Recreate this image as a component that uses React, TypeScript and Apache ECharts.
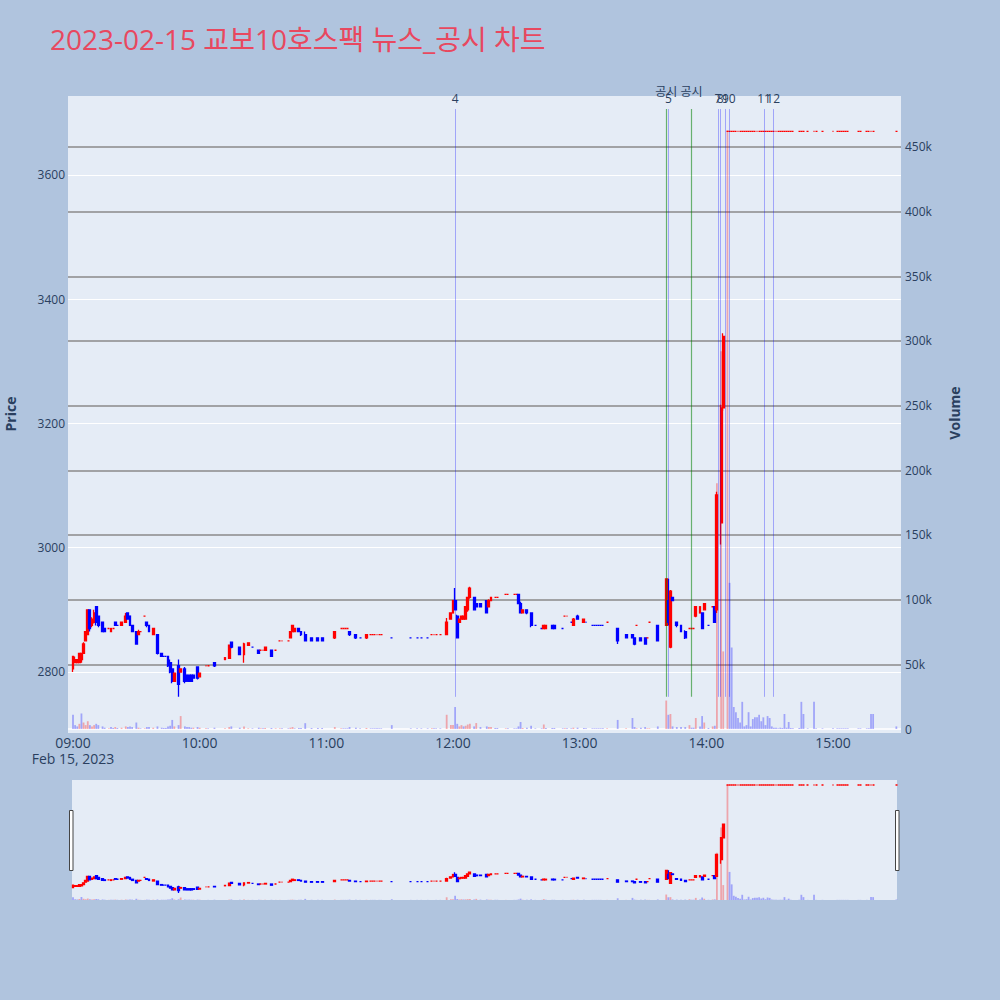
import React, { useEffect, useRef } from 'react';
import * as echarts from 'echarts';

const TITLE = '2023-02-15 교보10호스팩 뉴스_공시 차트';
const DATE_LABEL = 'Feb 15, 2023';
const FONT = '"Open Sans", "Noto Sans CJK KR", sans-serif';
const TEXT_COLOR = '#2a3f5f';
const UP = '#ff0000';
const DOWN = '#0000ff';

// [time, open, high, low, close, volume]
const ohlcv: Array<[string, number, number, number, number, number]> = [
  ['09:00', 2805, 2825, 2800, 2825, 11000],
  ['09:01', 2815, 2825, 2815, 2820, 3000],
  ['09:02', 2815, 2820, 2815, 2820, 2000],
  ['09:03', 2815, 2830, 2815, 2830, 4000],
  ['09:04', 2820, 2830, 2815, 2830, 12000],
  ['09:05', 2830, 2848, 2830, 2845, 5000],
  ['09:06', 2850, 2865, 2850, 2865, 3000],
  ['09:07', 2860, 2900, 2860, 2900, 6000],
  ['09:08', 2900, 2900, 2865, 2870, 3000],
  ['09:09', 2875, 2888, 2872, 2885, 2000],
  ['09:10', 2880, 2900, 2878, 2895, 3000],
  ['09:11', 2905, 2905, 2875, 2880, 4000],
  ['09:12', 2890, 2890, 2872, 2875, 3000],
  ['09:14', 2880, 2880, 2865, 2865, 2000],
  ['09:15', 2870, 2870, 2865, 2865, 1000],
  ['09:17', 2870, 2870, 2870, 2870, 500],
  ['09:18', 2865, 2870, 2865, 2870, 1500],
  ['09:19', 2870, 2870, 2870, 2870, 800],
  ['09:20', 2880, 2880, 2875, 2875, 1500],
  ['09:21', 2875, 2875, 2875, 2875, 800],
  ['09:23', 2875, 2880, 2875, 2880, 1000],
  ['09:25', 2880, 2895, 2880, 2890, 2000],
  ['09:26', 2895, 2895, 2885, 2885, 1500],
  ['09:27', 2890, 2890, 2875, 2875, 2000],
  ['09:28', 2875, 2875, 2865, 2865, 1500],
  ['09:30', 2865, 2865, 2845, 2845, 5000],
  ['09:31', 2860, 2868, 2860, 2865, 1000],
  ['09:32', 2865, 2865, 2865, 2865, 500],
  ['09:34', 2890, 2890, 2890, 2890, 500],
  ['09:35', 2880, 2880, 2872, 2875, 1500],
  ['09:36', 2875, 2875, 2865, 2865, 1500],
  ['09:38', 2860, 2870, 2860, 2870, 1000],
  ['09:40', 2860, 2860, 2828, 2830, 2000],
  ['09:42', 2830, 2830, 2825, 2825, 1000],
  ['09:43', 2825, 2825, 2825, 2825, 800],
  ['09:44', 2825, 2825, 2825, 2825, 800],
  ['09:45', 2825, 2825, 2808, 2810, 2000],
  ['09:46', 2815, 2820, 2798, 2800, 2500],
  ['09:47', 2805, 2805, 2782, 2785, 7000],
  ['09:48', 2785, 2798, 2785, 2798, 2000],
  ['09:50', 2810, 2820, 2760, 2780, 3000],
  ['09:51', 2800, 2805, 2800, 2805, 10000],
  ['09:53', 2805, 2808, 2782, 2785, 2000],
  ['09:54', 2795, 2795, 2785, 2785, 1500],
  ['09:55', 2795, 2795, 2785, 2785, 1500],
  ['09:56', 2795, 2795, 2785, 2785, 1000],
  ['09:57', 2795, 2795, 2790, 2790, 1000],
  ['09:59', 2808, 2808, 2788, 2790, 1500],
  ['10:00', 2792, 2798, 2792, 2798, 1000],
  ['10:03', 2810, 2810, 2810, 2810, 500],
  ['10:04', 2810, 2810, 2810, 2810, 500],
  ['10:07', 2815, 2815, 2808, 2810, 1000],
  ['10:12', 2820, 2823, 2820, 2823, 500],
  ['10:14', 2822, 2843, 2822, 2843, 1500],
  ['10:15', 2848, 2848, 2838, 2840, 2000],
  ['10:19', 2840, 2840, 2828, 2828, 1000],
  ['10:21', 2828, 2847, 2815, 2845, 2000],
  ['10:23', 2843, 2847, 2843, 2847, 500],
  ['10:25', 2840, 2840, 2840, 2840, 500],
  ['10:28', 2835, 2835, 2830, 2830, 1000],
  ['10:29', 2835, 2835, 2835, 2835, 500],
  ['10:30', 2835, 2835, 2835, 2835, 500],
  ['10:31', 2835, 2840, 2835, 2840, 800],
  ['10:34', 2835, 2835, 2825, 2825, 800],
  ['10:36', 2835, 2835, 2835, 2835, 500],
  ['10:38', 2850, 2850, 2850, 2850, 500],
  ['10:39', 2850, 2850, 2850, 2850, 500],
  ['10:42', 2850, 2850, 2850, 2850, 500],
  ['10:43', 2855, 2865, 2855, 2865, 1000],
  ['10:44', 2865, 2875, 2865, 2875, 1500],
  ['10:45', 2865, 2870, 2865, 2870, 500],
  ['10:47', 2870, 2870, 2865, 2865, 800],
  ['10:48', 2865, 2865, 2858, 2860, 800],
  ['10:50', 2860, 2865, 2850, 2850, 4500],
  ['10:53', 2855, 2855, 2850, 2850, 800],
  ['10:56', 2855, 2855, 2850, 2850, 800],
  ['10:58', 2855, 2855, 2850, 2850, 800],
  ['11:04', 2855, 2865, 2853, 2865, 1500],
  ['11:07', 2870, 2870, 2870, 2870, 500],
  ['11:08', 2870, 2870, 2870, 2870, 500],
  ['11:09', 2870, 2870, 2870, 2870, 500],
  ['11:10', 2870, 2870, 2870, 2870, 500],
  ['11:11', 2865, 2865, 2858, 2860, 1500],
  ['11:14', 2860, 2861, 2853, 2855, 1000],
  ['11:16', 2855, 2855, 2855, 2855, 500],
  ['11:19', 2855, 2860, 2853, 2860, 800],
  ['11:21', 2860, 2860, 2860, 2860, 500],
  ['11:22', 2860, 2860, 2860, 2860, 500],
  ['11:23', 2860, 2860, 2860, 2860, 500],
  ['11:24', 2860, 2860, 2860, 2860, 500],
  ['11:25', 2860, 2860, 2860, 2860, 500],
  ['11:26', 2860, 2860, 2860, 2860, 500],
  ['11:31', 2855, 2855, 2855, 2855, 3000],
  ['11:40', 2855, 2855, 2855, 2855, 500],
  ['11:43', 2855, 2855, 2855, 2855, 500],
  ['11:45', 2855, 2855, 2855, 2855, 500],
  ['11:48', 2855, 2855, 2855, 2855, 500],
  ['11:50', 2860, 2860, 2860, 2860, 500],
  ['11:51', 2860, 2860, 2860, 2860, 500],
  ['11:52', 2860, 2860, 2860, 2860, 500],
  ['11:54', 2860, 2860, 2860, 2860, 500],
  ['11:57', 2860, 2887, 2860, 2880, 11000],
  ['11:59', 2885, 2895, 2885, 2895, 3000],
  ['12:00', 2895, 2915, 2895, 2915, 3000],
  ['12:01', 2915, 2935, 2900, 2900, 17000],
  ['12:02', 2890, 2892, 2855, 2855, 4000],
  ['12:03', 2880, 2885, 2880, 2885, 2000],
  ['12:04', 2885, 2890, 2885, 2890, 3000],
  ['12:05', 2885, 2890, 2885, 2890, 2000],
  ['12:06', 2885, 2905, 2885, 2905, 2500],
  ['12:07', 2900, 2920, 2897, 2920, 3500],
  ['12:08', 2920, 2937, 2918, 2935, 4000],
  ['12:10', 2920, 2921, 2900, 2900, 2000],
  ['12:11', 2910, 2910, 2905, 2905, 4600],
  ['12:13', 2910, 2911, 2905, 2905, 1500],
  ['12:16', 2915, 2916, 2895, 2895, 2000],
  ['12:17', 2905, 2917, 2905, 2915, 1500],
  ['12:18', 2915, 2920, 2914, 2920, 1500],
  ['12:20', 2920, 2920, 2920, 2920, 800],
  ['12:21', 2920, 2920, 2920, 2920, 800],
  ['12:25', 2925, 2925, 2925, 2925, 500],
  ['12:26', 2925, 2925, 2925, 2925, 500],
  ['12:29', 2925, 2925, 2925, 2925, 500],
  ['12:30', 2925, 2925, 2925, 2925, 500],
  ['12:31', 2925, 2925, 2910, 2910, 2000],
  ['12:32', 2910, 2913, 2895, 2895, 5400],
  ['12:33', 2895, 2900, 2895, 2900, 800],
  ['12:35', 2900, 2901, 2893, 2895, 1000],
  ['12:37', 2895, 2896, 2872, 2875, 2500],
  ['12:39', 2875, 2875, 2875, 2875, 500],
  ['12:42', 2870, 2870, 2870, 2870, 500],
  ['12:43', 2870, 2876, 2869, 2875, 3500],
  ['12:44', 2870, 2875, 2870, 2875, 800],
  ['12:47', 2875, 2875, 2869, 2870, 800],
  ['12:48', 2875, 2875, 2870, 2870, 800],
  ['12:52', 2870, 2870, 2870, 2870, 500],
  ['12:53', 2890, 2890, 2890, 2890, 500],
  ['12:54', 2890, 2890, 2890, 2890, 500],
  ['12:56', 2880, 2880, 2880, 2880, 500],
  ['12:57', 2875, 2887, 2875, 2885, 1000],
  ['12:59', 2890, 2892, 2885, 2885, 1000],
  ['13:02', 2880, 2885, 2880, 2885, 800],
  ['13:03', 2880, 2880, 2880, 2880, 500],
  ['13:06', 2875, 2875, 2875, 2875, 500],
  ['13:07', 2875, 2875, 2875, 2875, 500],
  ['13:08', 2875, 2875, 2875, 2875, 500],
  ['13:09', 2875, 2875, 2875, 2875, 500],
  ['13:10', 2875, 2875, 2875, 2875, 500],
  ['13:11', 2875, 2875, 2875, 2875, 500],
  ['13:13', 2880, 2880, 2880, 2880, 500],
  ['13:18', 2870, 2870, 2845, 2850, 7000],
  ['13:22', 2860, 2860, 2855, 2855, 500],
  ['13:25', 2860, 2860, 2855, 2855, 8500],
  ['13:26', 2855, 2855, 2843, 2845, 1500],
  ['13:27', 2875, 2875, 2875, 2875, 500],
  ['13:29', 2855, 2855, 2850, 2850, 1000],
  ['13:31', 2855, 2855, 2845, 2845, 1500],
  ['13:32', 2855, 2855, 2855, 2855, 500],
  ['13:33', 2880, 2880, 2880, 2880, 500],
  ['13:37', 2875, 2876, 2850, 2850, 2000],
  ['13:41', 2875, 2950, 2875, 2950, 22000],
  ['13:42', 2915, 2950, 2875, 2880, 11000],
  ['13:43', 2840, 2932, 2838, 2930, 11600],
  ['13:44', 2920, 2920, 2915, 2915, 2000],
  ['13:46', 2880, 2880, 2872, 2875, 1500],
  ['13:48', 2875, 2875, 2864, 2865, 1500],
  ['13:50', 2865, 2867, 2853, 2855, 1500],
  ['13:52', 2870, 2870, 2870, 2870, 3000],
  ['13:53', 2870, 2870, 2870, 2870, 1000],
  ['13:54', 2870, 2870, 2870, 2870, 1000],
  ['13:55', 2890, 2906, 2888, 2905, 8500],
  ['13:57', 2895, 2905, 2895, 2905, 2000],
  ['13:58', 2895, 2896, 2869, 2870, 10000],
  ['13:59', 2900, 2911, 2900, 2910, 5000],
  ['14:01', 2875, 2875, 2875, 2875, 800],
  ['14:03', 2905, 2905, 2905, 2905, 2000],
  ['14:04', 2905, 2905, 2879, 2880, 2500],
  ['14:05', 2900, 3090, 2895, 3085, 190000],
  ['14:07', 3040, 3230, 3005, 3225, 292000],
  ['14:08', 3225, 3345, 3220, 3340, 60000],
  ['14:10', 3670, 3670, 3670, 3670, 463000],
  ['14:11', 3670, 3670, 3670, 3670, 113000],
  ['14:12', 3670, 3670, 3670, 3670, 63000],
  ['14:13', 3670, 3670, 3670, 3670, 17000],
  ['14:14', 3670, 3670, 3670, 3670, 13000],
  ['14:15', 3670, 3670, 3670, 3670, 8500],
  ['14:16', 3670, 3670, 3670, 3670, 5000],
  ['14:17', 3670, 3670, 3670, 3670, 21000],
  ['14:18', 3670, 3670, 3670, 3670, 2000],
  ['14:19', 3670, 3670, 3670, 3670, 3000],
  ['14:20', 3670, 3670, 3670, 3670, 13000],
  ['14:21', 3670, 3670, 3670, 3670, 2000],
  ['14:22', 3670, 3670, 3670, 3670, 7700],
  ['14:23', 3670, 3670, 3670, 3670, 9000],
  ['14:24', 3670, 3670, 3670, 3670, 9000],
  ['14:25', 3670, 3670, 3670, 3670, 11000],
  ['14:26', 3670, 3670, 3670, 3670, 6000],
  ['14:27', 3670, 3670, 3670, 3670, 9000],
  ['14:28', 3670, 3670, 3670, 3670, 3000],
  ['14:29', 3670, 3670, 3670, 3670, 10000],
  ['14:30', 3670, 3670, 3670, 3670, 8500],
  ['14:31', 3670, 3670, 3670, 3670, 2000],
  ['14:32', 3670, 3670, 3670, 3670, 1000],
  ['14:33', 3670, 3670, 3670, 3670, 1000],
  ['14:34', 3670, 3670, 3670, 3670, 500],
  ['14:35', 3670, 3670, 3670, 3670, 1000],
  ['14:36', 3670, 3670, 3670, 3670, 800],
  ['14:37', 3670, 3670, 3670, 3670, 11600],
  ['14:38', 3670, 3670, 3670, 3670, 1000],
  ['14:39', 3670, 3670, 3670, 3670, 5400],
  ['14:40', 3670, 3670, 3670, 3670, 800],
  ['14:41', 3670, 3670, 3670, 3670, 500],
  ['14:44', 3670, 3670, 3670, 3670, 800],
  ['14:45', 3670, 3670, 3670, 3670, 21000],
  ['14:46', 3670, 3670, 3670, 3670, 11600],
  ['14:48', 3670, 3670, 3670, 3670, 500],
  ['14:51', 3670, 3670, 3670, 3670, 21000],
  ['14:52', 3670, 3670, 3670, 3670, 500],
  ['14:55', 3670, 3670, 3670, 3670, 500],
  ['15:00', 3670, 3670, 3670, 3670, 500],
  ['15:02', 3670, 3670, 3670, 3670, 500],
  ['15:03', 3670, 3670, 3670, 3670, 500],
  ['15:04', 3670, 3670, 3670, 3670, 500],
  ['15:05', 3670, 3670, 3670, 3670, 500],
  ['15:06', 3670, 3670, 3670, 3670, 500],
  ['15:07', 3670, 3670, 3670, 3670, 500],
  ['15:12', 3670, 3670, 3670, 3670, 500],
  ['15:13', 3670, 3670, 3670, 3670, 500],
  ['15:16', 3670, 3670, 3670, 3670, 500],
  ['15:17', 3670, 3670, 3670, 3670, 500],
  ['15:18', 3670, 3670, 3670, 3670, 11600],
  ['15:19', 3670, 3670, 3670, 3670, 11600],
  ['15:30', 3670, 3670, 3670, 3670, 2000],
];

const newsEvents: Array<{ label: string; time: string }> = [
  { label: '4', time: '12:01' },
  { label: '5', time: '13:42' },
  { label: '7', time: '14:05:30' },
  { label: '8', time: '14:06:30' },
  { label: '9', time: '14:09' },
  { label: '10', time: '14:10:40' },
  { label: '11', time: '14:27:20' },
  { label: '12', time: '14:31:40' },
];
const disclosureEvents: Array<{ label: string; time: string }> = [
  { label: '공시', time: '13:41' },
  { label: '공시', time: '13:53' },
];
const eventLineRange = [2760, 3706];

const timeTicks = ['09:00', '10:00', '11:00', '12:00', '13:00', '14:00', '15:00'];
const xRange = [-2.37, 392.2]; // minutes after 09:00
const priceRange = [2600, 3727];
const priceInterval = 200;
const volumeRange = [0, 489400];
const volumeInterval = 50000;
const sliderPriceRange = [2700, 3712];
const sliderVolumeRange = [0, 483000];

function toMin(t: string): number {
  const [h, m, s] = t.split(':').map(Number);
  return (h - 9) * 60 + m + (s || 0) / 60;
}
function fmtMin(v: number): string {
  const h = 9 + Math.floor(v / 60);
  const m = Math.round(v % 60);
  return `${String(h).padStart(2, '0')}:${String(m).padStart(2, '0')}`;
}

export default function App() {
  const ref = useRef<HTMLDivElement>(null);
  useEffect(() => {
    if (!ref.current) return;
    const chart = echarts.init(ref.current, undefined, { renderer: 'svg' });

    // candle direction (plotly rule for flat candles) and volume colour
    const candleItems: any[] = [];
    const volItems: any[] = [];
    let prevC: number | null = null;
    let prevDir = 1;
    ohlcv.forEach(([t, o, h, l, c, v]) => {
      let d: number;
      if (c > o) d = 1;
      else if (c < o) d = -1;
      else if (prevC === null) d = 1;
      else if (c > prevC) d = 1;
      else if (c < prevC) d = -1;
      else d = prevDir;
      const col = d > 0 ? UP : DOWN;
      const x = toMin(t);
      candleItems.push({
        value: [x, o, c, l, h],
        itemStyle: { color: col, color0: col, borderColor: col, borderColor0: col },
      });
      const vUp = prevC !== null && c > prevC;
      volItems.push({
        value: [x, v],
        itemStyle: { color: vUp ? 'rgba(255,0,0,0.3)' : 'rgba(0,0,255,0.3)' },
      });
      prevC = c;
      prevDir = d;
    });

    const lineData: any[] = [];
    disclosureEvents.forEach((e) => {
      const x = toMin(e.time);
      lineData.push([
        {
          name: e.label,
          coord: [x, eventLineRange[0]],
          lineStyle: { color: 'rgba(0,128,0,0.55)', width: 1.2, type: 'solid' },
          label: { distance: 12 },
        },
        { coord: [x, eventLineRange[1]] },
      ]);
    });
    newsEvents.forEach((e) => {
      const x = toMin(e.time);
      lineData.push([
        {
          name: e.label,
          coord: [x, eventLineRange[0]],
          lineStyle: { color: 'rgba(0,0,255,0.3)', width: 1, type: 'solid' },
          label: { distance: 5 },
        },
        { coord: [x, eventLineRange[1]] },
      ]);
    });

    const gridColors = ['#ffffff'];
    for (let i = 0; i < 12; i++) gridColors.push('#8a8a8a');

    const option: any = {
      animation: false,
      backgroundColor: '#b0c4de',
      title: {
        text: TITLE,
        left: 50,
        top: 25,
        padding: 0,
        textStyle: { fontSize: 28, fontWeight: 'normal', color: '#e8485f', fontFamily: FONT },
      },
      graphic: [
        { type: 'rect', z: -10, shape: { x: 68, y: 96, width: 833, height: 637 }, style: { fill: '#e5ecf6' } },
        { type: 'rect', z: -10, shape: { x: 72, y: 780, width: 825, height: 120 }, style: { fill: '#e5ecf6' } },
        {
          type: 'rect', z: 100,
          shape: { x: 69.5, y: 810.5, width: 3.5, height: 60 },
          style: { fill: '#ffffff', stroke: '#444444', lineWidth: 1 },
        },
        {
          type: 'rect', z: 100,
          shape: { x: 895.5, y: 810.5, width: 3.5, height: 60 },
          style: { fill: '#ffffff', stroke: '#444444', lineWidth: 1 },
        },
        {
          type: 'text', x: 10, y: 414, rotation: Math.PI / 2,
          style: { text: 'Price', fill: TEXT_COLOR, font: `bold 14px ${FONT}`, align: 'center', verticalAlign: 'middle' },
        },
        {
          type: 'text', x: 954, y: 413, rotation: Math.PI / 2,
          style: { text: 'Volume', fill: TEXT_COLOR, font: `bold 14px ${FONT}`, align: 'center', verticalAlign: 'middle' },
        },
      ],
      grid: [
        { left: 68, top: 96, width: 833, height: 700.25 },
        { left: 68, top: 96, width: 833, height: 633 },
        { left: 68, top: 780, width: 833, height: 120 },
      ],
      xAxis: [
        { type: 'value', gridIndex: 0, min: xRange[0], max: xRange[1], show: false },
        {
          type: 'value', gridIndex: 1, min: xRange[0], max: xRange[1],
          axisLine: { show: false }, axisTick: { show: false }, splitLine: { show: false },
          axisLabel: {
            customValues: timeTicks.map(toMin),
            formatter: (v: number) => (Math.abs(v) < 0.01 ? `${fmtMin(v)}\n${DATE_LABEL}` : fmtMin(v)),
            color: TEXT_COLOR, fontSize: 14, fontFamily: FONT, margin: 5, lineHeight: 16,
          },
        },
        { type: 'value', gridIndex: 2, min: xRange[0], max: xRange[1], show: false },
      ],
      yAxis: [
        {
          type: 'value', gridIndex: 0, position: 'left',
          min: priceRange[0], max: priceRange[1], interval: priceInterval,
          axisLine: { show: false }, axisTick: { show: false },
          axisLabel: {
            showMinLabel: false, showMaxLabel: false, margin: 3, color: TEXT_COLOR, fontSize: 12, fontFamily: FONT,
            formatter: (v: number) => String(v),
          },
          splitLine: { show: true, showMinLine: false, showMaxLine: false, lineStyle: { color: '#ffffff', width: 1 } },
        },
        {
          type: 'value', gridIndex: 1, position: 'right',
          min: volumeRange[0], max: volumeRange[1], interval: volumeInterval,
          axisLine: { show: false }, axisTick: { show: false },
          axisLabel: {
            showMaxLabel: false, margin: 4, color: TEXT_COLOR, fontSize: 12, fontFamily: FONT,
            formatter: (v: number) => (v === 0 ? '0' : `${v / 1000}k`),
          },
          splitLine: { show: true, showMaxLine: false, lineStyle: { color: gridColors, width: 1.5 } },
        },
        { type: 'value', gridIndex: 2, min: sliderPriceRange[0], max: sliderPriceRange[1], show: false },
        { type: 'value', gridIndex: 2, min: sliderVolumeRange[0], max: sliderVolumeRange[1], show: false },
      ],
      series: [
        {
          type: 'bar', xAxisIndex: 1, yAxisIndex: 1, data: volItems, barWidth: 1.8, z: 2,
        },
        {
          type: 'candlestick', xAxisIndex: 0, yAxisIndex: 0, data: candleItems,
          encode: { x: 0, y: [1, 2, 3, 4] }, barWidth: 2.4, z: 3,
          itemStyle: { borderWidth: 1.3 },
          markLine: {
            silent: true, symbol: ['none', 'none'], animation: false,
            label: { show: true, position: 'end', formatter: '{b}', color: TEXT_COLOR, fontSize: 12, fontFamily: FONT },
            data: lineData,
          },
        },
        {
          type: 'bar', xAxisIndex: 2, yAxisIndex: 3, data: volItems, barWidth: 1.8, z: 2,
        },
        {
          type: 'candlestick', xAxisIndex: 2, yAxisIndex: 2, data: candleItems,
          encode: { x: 0, y: [1, 2, 3, 4] }, barWidth: 2.4, z: 3,
          itemStyle: { borderWidth: 1.3 },
        },
      ],
    };
    chart.setOption(option);
    return () => chart.dispose();
  }, []);
  return <div ref={ref} style={{ position: 'fixed', left: 0, top: 0, width: 1000, height: 1000 }} />;
}
